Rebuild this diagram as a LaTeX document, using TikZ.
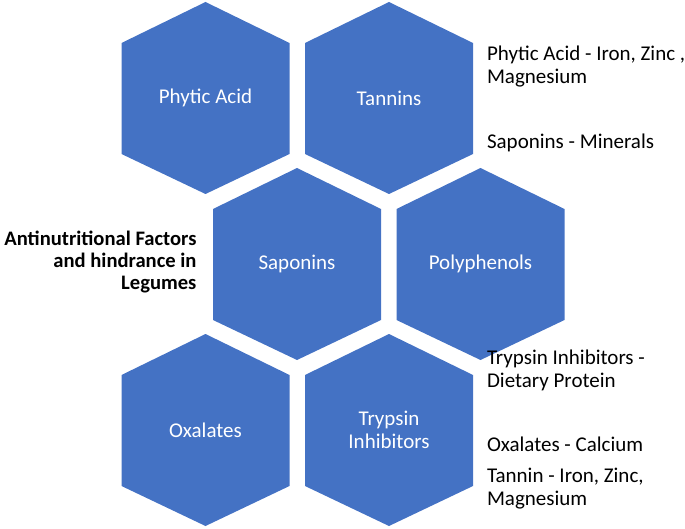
\documentclass[tikz,border=0pt]{standalone}
\usepackage{fontspec}
\setmainfont{Carlito}
\usepackage{tikz}
\usetikzlibrary{positioning,backgrounds}
\definecolor{hex-blue}{HTML}{4472C4}

\begin{document}
\begin{tikzpicture}[x=1pt, y=1pt, node distance=183.5pt, on grid,
    hexlabel/.style={text=white, align=center, font=\fontsize{21}{23}\selectfont},
    sidenote/.style={anchor=base west, align=left, font=\fontsize{21}{23}\selectfont}]
    \useasboundingbox (0,0) rectangle (685,-529);
    % hexagon labels
    \node[hexlabel] (phy) at (205.5,-98) {Phytic Acid};
    \node[hexlabel, right=of phy] (tan) {Tannins};
    \node[hexlabel, below right=166pt and 91.5pt of phy] (sap) {Saponins};
    \node[hexlabel, right=of sap] (pol) {Polyphenols};
    \node[hexlabel, below=332pt of phy] (oxa) {Oxalates};
    \node[hexlabel, right=of oxa] (try) {Trypsin\\Inhibitors};
    % hexagons behind the labels
    \begin{scope}[on background layer]
        \foreach \h in {phy,tan,sap,pol,oxa,try}
            \fill[hex-blue, shift={(\h)}] (0,96) -- (84,55) -- (84,-56) -- (0,-96) -- (-84,-56) -- (-84,55) -- cycle;
    \end{scope}
    % title and notes (base = last line)
    \node[anchor=base east, align=right, font=\fontsize{20.6}{22}\selectfont\bfseries] (title) at (200,-290) {Antinutritional Factors\\and hindrance in\\Legumes};
    \node[sidenote] (pa-note) at (483.5,-84) {Phytic Acid - Iron, Zinc ,\\Magnesium};
    \node[sidenote] (sa-note) at (483.5,-148.3) {Saponins - Minerals};
    \node[sidenote] (ti-note) at (483.5,-387.3) {Trypsin Inhibitors -\\Dietary Protein};
    \node[sidenote] (ox-note) at (483.5,-451.7) {Oxalates - Calcium};
    \node[sidenote] (ta-note) at (483.5,-505.7) {Tannin - Iron, Zinc,\\Magnesium};
\end{tikzpicture}
\end{document}
